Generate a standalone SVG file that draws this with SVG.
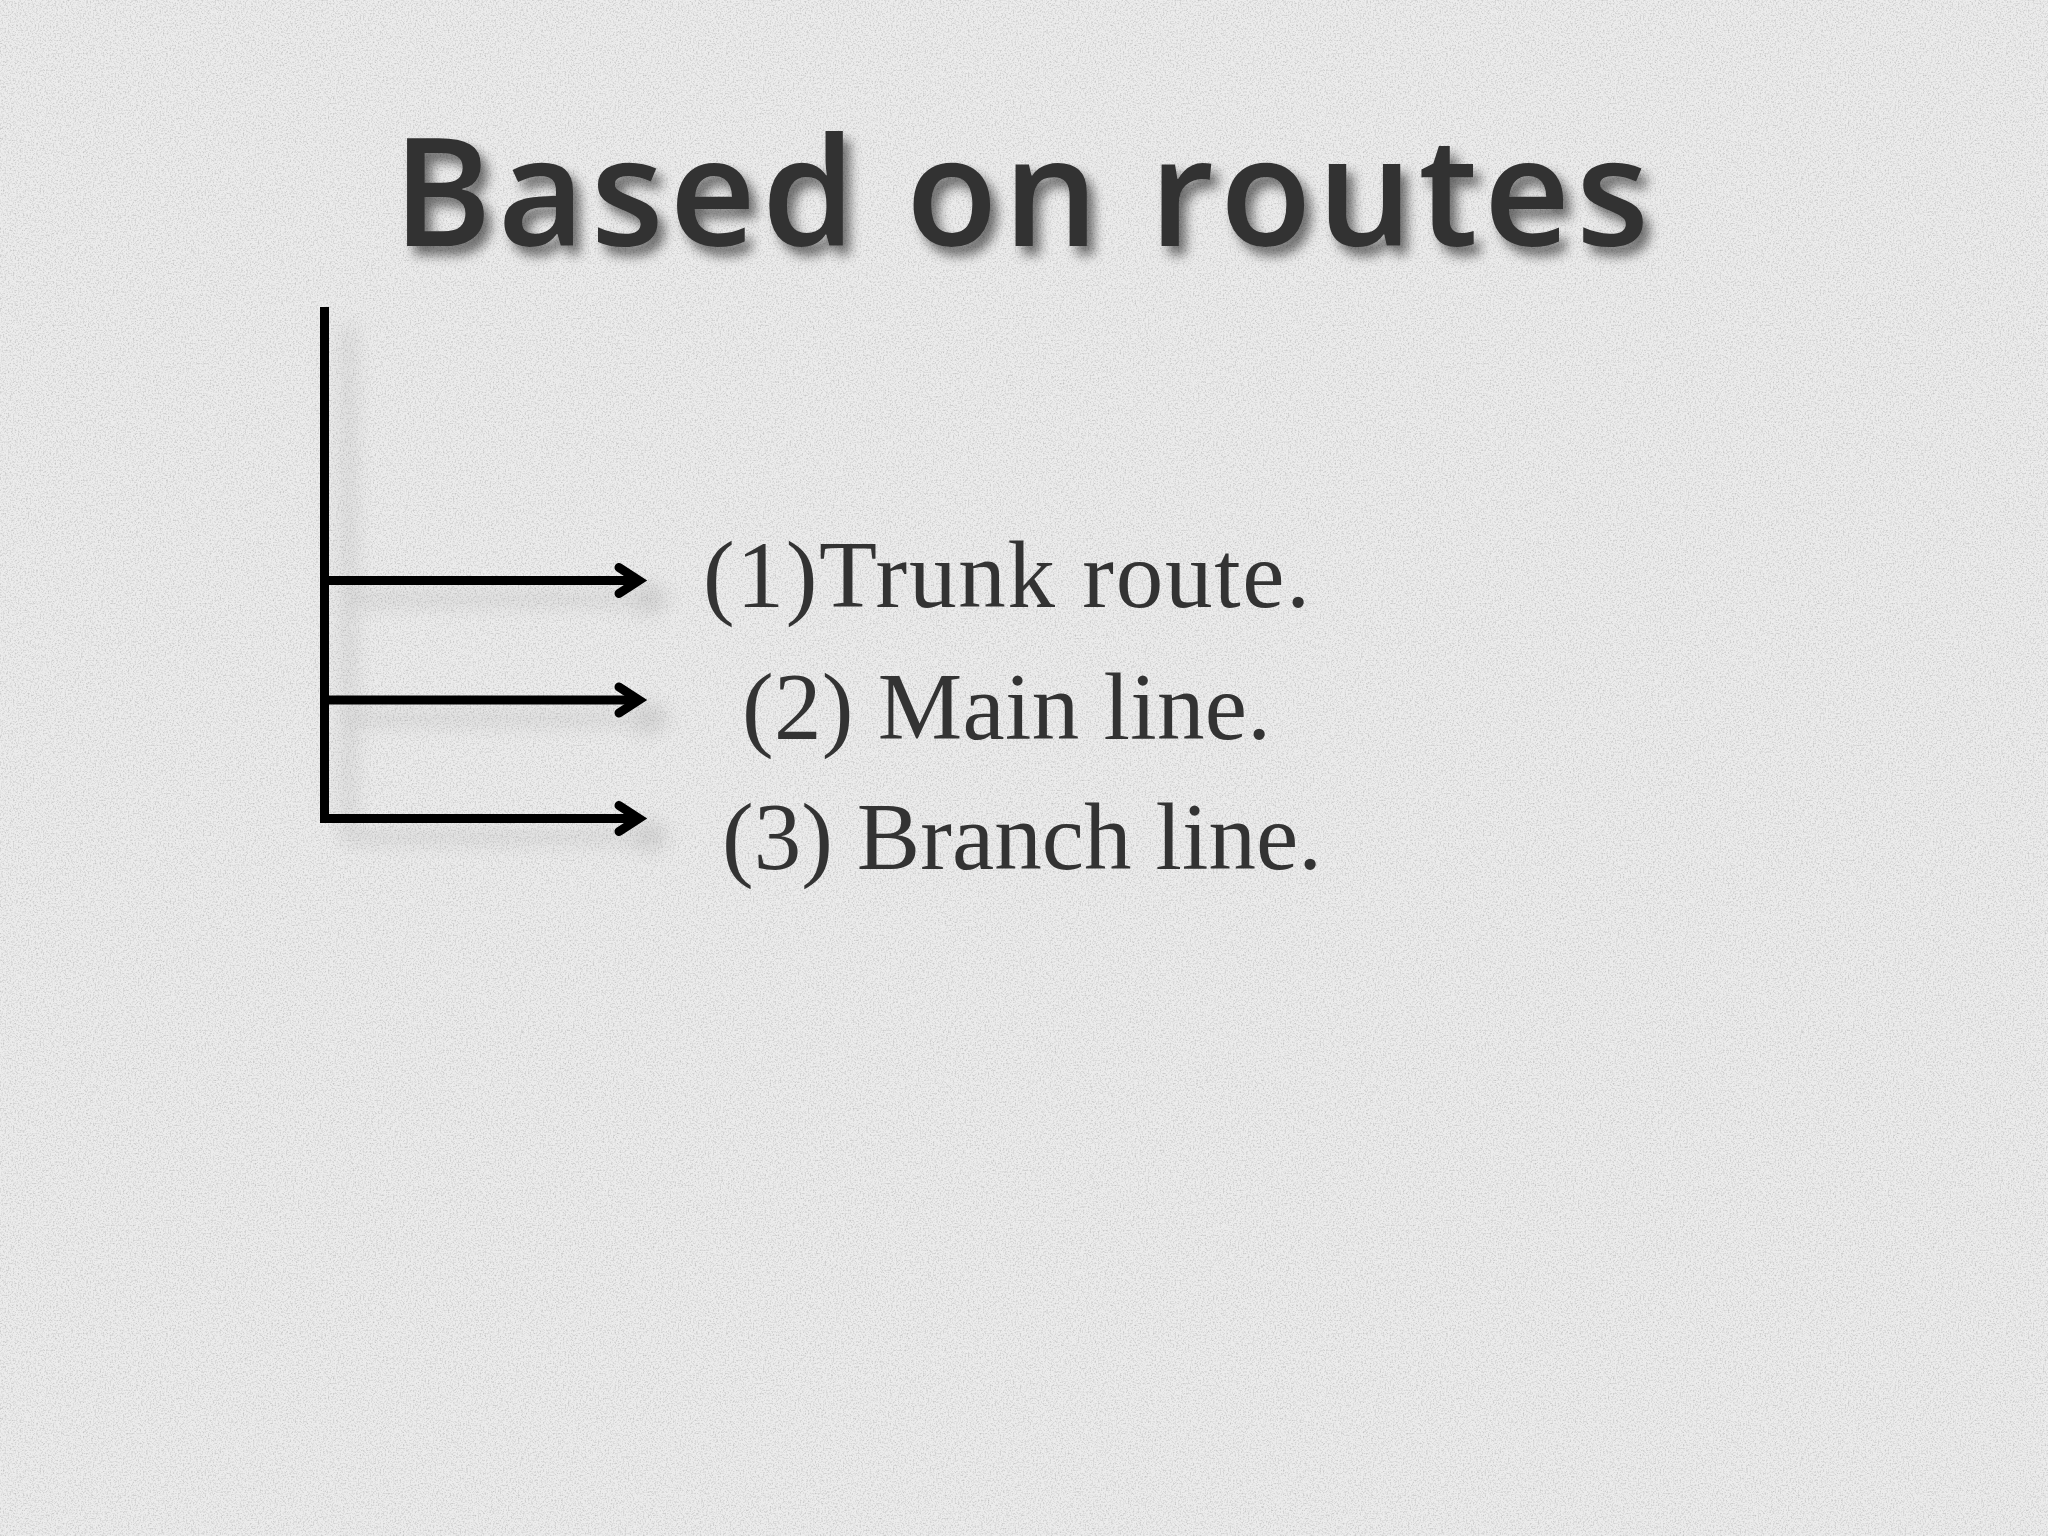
<svg xmlns="http://www.w3.org/2000/svg" width="2048" height="1536" viewBox="0 0 2048 1536">
<defs>
<style>
.title{font-family:"Open Sans","Noto Sans","DejaVu Sans",sans-serif;font-weight:600;font-size:150px;fill:#333333}
.item{font-family:"Liberation Serif","DejaVu Serif",serif;font-size:95px;fill:#333333}
.conn{stroke:#000000;stroke-width:9;fill:none}
</style>
<filter id="noise" x="0" y="0" width="100%" height="100%">
<feTurbulence type="fractalNoise" baseFrequency="0.6" numOctaves="3" seed="4" result="n"/>
<feColorMatrix in="n" type="matrix" values="0 0 0 0 0.5  0 0 0 0 0.5  0 0 0 0 0.5  0 0 0 1.8 -0.8"/>
</filter>
<filter id="tshadow" x="-10%" y="-30%" width="120%" height="160%">
<feGaussianBlur in="SourceAlpha" stdDeviation="6"/>
<feOffset dx="7" dy="9" result="b"/>
<feComponentTransfer in="b" result="s"><feFuncA type="linear" slope="0.55"/></feComponentTransfer>
<feMerge><feMergeNode in="s"/><feMergeNode in="SourceGraphic"/></feMerge>
</filter>
<filter id="cshadow" x="-20%" y="-20%" width="140%" height="140%">
<feGaussianBlur in="SourceAlpha" stdDeviation="10"/>
<feOffset dx="24" dy="18" result="b"/>
<feComponentTransfer in="b" result="s"><feFuncA type="linear" slope="0.14"/></feComponentTransfer>
<feMerge><feMergeNode in="s"/><feMergeNode in="SourceGraphic"/></feMerge>
</filter>
<marker id="chev" markerUnits="userSpaceOnUse" viewBox="-30 -20 50 40" markerWidth="50" markerHeight="40" refX="0" refY="0" orient="auto">
<path d="M-20,-13 L0,0 L-20,13" fill="none" stroke="#000000" stroke-width="9" stroke-linecap="round" stroke-linejoin="miter" stroke-miterlimit="6"/>
</marker>
</defs>
<rect x="0" y="0" width="2048" height="1536" fill="#ececec"/>
<rect x="0" y="0" width="2048" height="1536" filter="url(#noise)"/>

<g id="title" filter="url(#tshadow)">
<text class="title" x="393" y="246" textLength="1256">Based on routes</text>
</g>

<g id="connectors" filter="url(#cshadow)">
<line class="conn" x1="324.5" y1="307" x2="324.5" y2="823"/>
<line class="conn" x1="324.5" y1="580.5" x2="639" y2="580.5" marker-end="url(#chev)"/>
<line class="conn" x1="324.5" y1="700" x2="639" y2="700" marker-end="url(#chev)"/>
<line class="conn" x1="320" y1="818.5" x2="639" y2="818.5" marker-end="url(#chev)"/>
</g>

<g id="item1"><text class="item" x="703" y="607" textLength="607">(1)Trunk route.</text></g>
<g id="item2"><text class="item" x="742" y="739" textLength="529">(2) Main line.</text></g>
<g id="item3"><text class="item" x="722" y="869" textLength="600">(3) Branch line.</text></g>
</svg>
